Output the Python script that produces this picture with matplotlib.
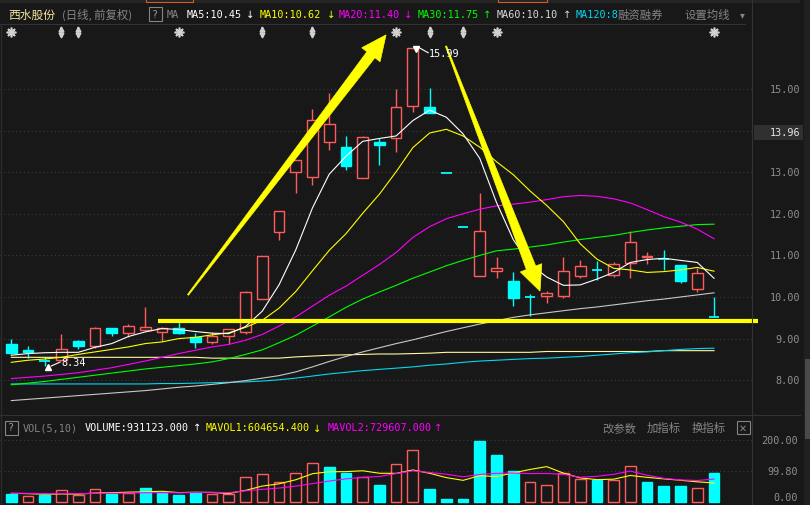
import matplotlib
matplotlib.use('Agg')
import matplotlib.pyplot as plt
from matplotlib.patches import Rectangle, Polygon
from matplotlib.transforms import blended_transform_factory
import numpy as np

# ---- values (price in yuan, volume in 10k lots) ----
opens = [8.86, 8.72, 8.45, 8.48, 8.94, 8.83, 9.25, 9.13, 9.21, 9.17, 9.25, 9.05, 8.93, 9.07, 9.17,
         9.95, 11.56, 13.01, 12.88, 13.72, 13.61, 12.85, 13.72, 13.81, 14.60, 14.57, 12.97, 11.67,
         10.50, 10.63, 10.39, 10.01, 10.03, 10.02, 10.51, 10.66, 10.53, 10.82, 10.95, 10.91, 10.78,
         10.20, 9.52]
highs = [8.98, 8.83, 8.55, 9.10, 8.96, 9.29, 9.25, 9.34, 9.75, 9.27, 9.39, 9.13, 9.17, 9.23, 10.15,
         10.99, 12.06, 13.29, 14.52, 14.90, 13.88, 13.88, 13.81, 15.00, 15.99, 15.02, 12.97, 11.67,
         12.50, 10.97, 10.61, 10.06, 10.14, 10.95, 10.88, 10.86, 10.85, 11.59, 11.07, 11.12, 10.78,
         10.70, 10.01]
lows = [8.62, 8.54, 8.34, 8.45, 8.75, 8.78, 9.07, 9.04, 9.18, 8.94, 9.10, 8.77, 8.87, 8.88, 9.12,
        9.95, 11.36, 12.50, 12.70, 13.54, 13.06, 12.85, 13.17, 13.48, 14.45, 14.41, 12.97, 11.67,
        10.50, 10.46, 9.79, 9.55, 9.85, 9.98, 10.46, 10.40, 10.48, 10.45, 10.79, 10.65, 10.33,
        10.12, 9.52]
closes = [8.65, 8.67, 8.45, 8.76, 8.82, 9.25, 9.13, 9.31, 9.27, 9.25, 9.13, 8.91, 9.07, 9.22, 10.11,
          10.99, 12.06, 13.29, 14.25, 14.16, 13.15, 13.84, 13.65, 14.56, 15.99, 14.41, 12.97, 11.67,
          11.59, 10.70, 9.98, 10.01, 10.10, 10.63, 10.75, 10.66, 10.80, 11.31, 10.99, 10.91, 10.38,
          10.58, 9.52]

ma5 = [8.60, 8.64, 8.66, 8.67, 8.67, 8.79, 8.88, 9.05, 9.16, 9.24, 9.22, 9.17, 9.13, 9.12, 9.29,
       9.66, 10.29, 11.13, 12.14, 12.95, 13.38, 13.74, 13.81, 13.87, 14.24, 14.49, 14.32, 13.92,
       13.33, 12.27, 11.38, 10.79, 10.48, 10.28, 10.29, 10.43, 10.59, 10.83, 10.90, 10.93, 10.88,
       10.83, 10.45]
ma10 = [8.43, 8.48, 8.51, 8.55, 8.62, 8.68, 8.74, 8.80, 8.88, 8.92, 9.00, 9.03, 9.09, 9.14, 9.27,
        9.44, 9.73, 10.13, 10.63, 11.12, 11.52, 12.01, 12.47, 13.01, 13.59, 13.94, 14.03, 13.87,
        13.60, 13.25, 12.94, 12.55, 12.20, 11.81, 11.28, 10.91, 10.69, 10.65, 10.59, 10.61, 10.65,
        10.71, 10.62]
ma20 = [8.04, 8.07, 8.10, 8.14, 8.18, 8.24, 8.30, 8.38, 8.46, 8.55, 8.64, 8.72, 8.80, 8.86, 8.96,
        9.10, 9.30, 9.52, 9.78, 10.04, 10.26, 10.52, 10.78, 11.07, 11.43, 11.69, 11.88, 12.00,
        12.11, 12.19, 12.23, 12.28, 12.34, 12.41, 12.44, 12.42, 12.36, 12.26, 12.10, 11.93, 11.80,
        11.63, 11.40]
ma30 = [7.89, 7.93, 7.97, 8.02, 8.07, 8.12, 8.17, 8.22, 8.27, 8.31, 8.35, 8.39, 8.44, 8.52, 8.62,
        8.73, 8.90, 9.08, 9.30, 9.52, 9.75, 9.95, 10.12, 10.28, 10.45, 10.60, 10.75, 10.88, 11.00,
        11.11, 11.15, 11.20, 11.25, 11.32, 11.38, 11.43, 11.48, 11.55, 11.61, 11.66, 11.70, 11.74,
        11.75]
ma60 = [7.51, 7.54, 7.57, 7.60, 7.63, 7.66, 7.69, 7.72, 7.75, 7.79, 7.83, 7.86, 7.90, 7.94, 7.99,
        8.05, 8.11, 8.20, 8.32, 8.45, 8.57, 8.68, 8.78, 8.88, 8.97, 9.07, 9.17, 9.26, 9.35, 9.43,
        9.51, 9.57, 9.62, 9.67, 9.72, 9.76, 9.81, 9.86, 9.91, 9.95, 10.00, 10.05, 10.10]
ma120 = [7.91, 7.91, 7.91, 7.91, 7.91, 7.91, 7.91, 7.91, 7.91, 7.92, 7.92, 7.93, 7.94, 7.95, 7.96,
         7.98, 8.01, 8.05, 8.10, 8.15, 8.19, 8.23, 8.26, 8.29, 8.32, 8.36, 8.39, 8.43, 8.46, 8.48,
         8.50, 8.52, 8.53, 8.55, 8.57, 8.60, 8.63, 8.66, 8.68, 8.71, 8.74, 8.76, 8.77]
ma250 = [8.55, 8.55, 8.55, 8.55, 8.55, 8.55, 8.55, 8.55, 8.55, 8.55, 8.55, 8.55, 8.53, 8.53, 8.53,
         8.53, 8.53, 8.56, 8.58, 8.60, 8.61, 8.62, 8.63, 8.63, 8.64, 8.65, 8.67, 8.67, 8.67, 8.67,
         8.67, 8.67, 8.69, 8.69, 8.69, 8.69, 8.69, 8.69, 8.69, 8.71, 8.71, 8.71, 8.71]

volumes = [24.2, 18.9, 21.0, 36.8, 21.0, 42.0, 24.2, 29.4, 43.1, 29.4, 21.0, 29.4, 26.3, 26.3, 79.8,
           90.3, 65.1, 92.4, 123.9, 111.3, 92.4, 78.8, 52.5, 121.8, 165.9, 39.9, 8.4, 8.4, 197.4,
           150.2, 99.8, 64.1, 54.6, 92.4, 73.5, 71.4, 71.4, 114.5, 62.0, 49.4, 49.4, 45.2, 93.1]
vol_up = [0, 1, 0, 1, 1, 1, 0, 1, 0, 0, 0, 0, 1, 1, 1, 1, 1, 1, 1, 0, 0, 1, 0, 1, 1, 0, 0, 0, 0, 0,
          0, 1, 1, 1, 1, 0, 1, 1, 0, 0, 0, 1, 0]
mavol1 = [27, 26, 24, 25, 24.4, 27.9, 29.0, 30.7, 31.9, 33.6, 29.4, 30.5, 29.8, 26.5, 36.6, 50.4,
          57.6, 70.8, 90.3, 96.6, 97.0, 99.8, 91.8, 91.4, 102.3, 91.8, 77.7, 68.9, 84.0, 80.9, 92.8,
          104.0, 113.2, 92.2, 76.9, 71.2, 72.7, 84.6, 78.6, 73.7, 69.3, 64.1, 60.5]
mavol2 = [27, 27, 26, 26, 26, 27, 27, 28, 29, 29.0, 28.7, 29.7, 30.3, 29.2, 35.1, 39.9, 44.0, 50.3,
          58.4, 66.6, 73.7, 78.7, 81.3, 90.8, 99.4, 94.4, 88.7, 80.3, 87.7, 91.6, 92.3, 90.8, 91.1,
          88.1, 78.9, 82.0, 88.3, 98.9, 85.4, 75.3, 70.3, 68.4, 73.0]

price_ticks = [8, 9, 10, 11, 12, 13, 14, 15]
vol_ticks = [200.0, 99.8, 0.0]
star_marks = [0, 10, 23, 29, 42]
updown_marks = [3, 4, 15, 18, 25, 27]
support_price = 9.43
support_span = (8.77, 44.6)
arrows = [((10.56, 10.05), (22.4, 16.30)), ((25.98, 16.03), (31.6, 10.14))]
crosshair_price = 13.96

BG = '#181818'
RED = '#ff5b5b'
CYAN = '#00ffff'
YEL = '#ffff00'
GRID = '#3a3a3a'
TXT = '#8e8e8e'
W, H = 810, 506
CJK = ['Noto Sans CJK SC', 'DejaVu Sans']
MONO = ['DejaVu Sans Mono', 'Noto Sans CJK SC']

fig = plt.figure(figsize=(8.1, 5.06), dpi=100)
fig.patch.set_facecolor(BG)

ax = fig.add_axes([0, 1 - 412 / H, 752 / W, 372 / H])
axv = fig.add_axes([0, 0, 752 / W, 89 / H])
over = fig.add_axes([0, 0, 1, 1], zorder=10)
over.set_xlim(0, W)
over.set_ylim(H, 0)
over.set_axis_off()

n = len(closes)
x = np.arange(n)
for a in (ax, axv):
    a.set_facecolor(BG)
    a.set_xlim(-0.675, 44.27)
    a.set_xticks([])
    a.set_yticks([])
    for s in a.spines.values():
        s.set_visible(False)
ax.set_ylim(7.26, 16.20)
axv.set_ylim(-10.65, 276.5)

for p in price_ticks:
    ax.axhline(p, color=GRID, lw=0.8, ls=(0, (1, 2.5)), zorder=1)
for v in vol_ticks[:2]:
    axv.axhline(v, color=GRID, lw=0.8, ls=(0, (1, 2.5)), zorder=1)

# candles
bw = 0.64
for i in range(n):
    o, h, l, c = opens[i], highs[i], lows[i], closes[i]
    up = c > o
    col = RED if up else CYAN
    lo, hi = min(o, c), max(o, c)
    if hi - lo < 0.015:
        ax.vlines(i, l, h, color=col, lw=1.0, zorder=3)
        ax.hlines(lo, i - bw / 2, i + bw / 2, color=col, lw=1.3, zorder=3)
        continue
    ax.vlines(i, l, lo, color=col, lw=1.0, zorder=3)
    ax.vlines(i, hi, h, color=col, lw=1.0, zorder=3)
    ax.add_patch(Rectangle((i - bw / 2, lo), bw, hi - lo, facecolor=BG if up else col,
                           edgecolor=col, lw=1.0, zorder=3))

for vals, col in [(ma250, '#fffaa0'), (ma120, '#00d8f0'), (ma60, '#c8c8c8'), (ma30, '#00ff00'),
                  (ma20, '#ff00ff'), (ma10, '#ffff00'), (ma5, '#ffffff')]:
    ax.plot(x, vals, color=col, lw=0.8, zorder=4)

# volume bars
for i in range(n):
    col = RED if vol_up[i] else CYAN
    axv.add_patch(Rectangle((i - bw / 2, 0), bw, volumes[i], facecolor=BG if vol_up[i] else col,
                            edgecolor=col, lw=1.0, zorder=3))
axv.plot(x, mavol1, color='#ffff00', lw=0.8, zorder=4)
axv.plot(x, mavol2, color='#ff00ff', lw=0.8, zorder=4)

# support line and arrows
ax.hlines(support_price, support_span[0], support_span[1], color=YEL, lw=3, zorder=6, clip_on=False)


def to_px(pt):
    d = ax.transData.transform(pt)
    return np.array([d[0], H - d[1]])


for tail, tip in arrows:
    t, e = to_px(tail), to_px(tip)
    u = (e - t) / np.hypot(*(e - t))
    nr = np.array([-u[1], u[0]])
    b = e - u * 25
    pts = [t + nr * 0.6, b + nr * 5, b + nr * 11.5, e, b - nr * 11.5, b - nr * 5, t - nr * 0.6]
    over.add_patch(Polygon(pts, closed=True, fc=YEL, ec=YEL, lw=0.5))

# high / low labels
i_hi = int(np.argmax(highs))
i_lo = int(np.argmin(lows))
for idx, val, dy in [(i_hi, highs[i_hi], 5), (i_lo, lows[i_lo], -4)]:
    px = to_px((idx + 0.2, val))
    over.plot(px[0], px[1] + 1, marker='v' if dy > 0 else '^', ms=4, color='white', mec='white')
    over.plot([px[0] + 3, px[0] + 12], [px[1], px[1] + dy], color='white', lw=0.8)
    over.text(px[0] + 13, px[1] + dy, f'{val:.2f}', color='white', fontsize=7.3, family=MONO,
              va='center', ha='left')

# event markers row
for i in star_marks:
    over.plot(to_px((i, 10))[0], 33, marker=(8, 2, 0), ms=7, mew=1.2, color='#d0d0d0')
    over.plot(to_px((i, 10))[0], 33, marker='o', ms=3, color='#d0d0d0')
for i in updown_marks:
    xx = to_px((i, 10))[0]
    over.plot([xx, xx], [29, 37], color='#d0d0d0', lw=1.2)
    over.plot(xx, 30, marker='^', ms=3.5, color='#d0d0d0')
    over.plot(xx, 36, marker='v', ms=3.5, color='#d0d0d0')

# right axis labels (the crosshair price box hides the tick label under it)
trp = blended_transform_factory(fig.transFigure, ax.transData)
for p in price_ticks:
    if abs(p - crosshair_price) < 0.25:
        continue
    ax.text(800 / W, p, f'{p:.2f}', transform=trp, ha='right', va='center', color=TXT,
            fontsize=7.3, family=MONO, clip_on=False)
ch = to_px((0, crosshair_price))[1]
over.add_patch(Rectangle((754, ch - 7.5), 49, 15, fc='#303030', ec='none'))
over.text(800, ch, f'{crosshair_price:.2f}', ha='right', va='center', color='#e8e8e8',
          fontsize=7.3, family=MONO)
trv = blended_transform_factory(fig.transFigure, axv.transData)
for v in vol_ticks:
    axv.text(798 / W, v, f'{v:.2f}', transform=trv, ha='right', va='bottom' if v == 0 else 'center',
             color=TXT, fontsize=7.3, family=MONO, clip_on=False)

# frame lines
over.plot([0, 745], [25, 25], color='#333333', lw=0.8)
over.plot([0, 800], [416, 416], color='#333333', lw=0.8)
over.plot([752, 752], [0, H], color='#333333', lw=0.8)
over.plot([1, 1], [25, H], color='#2c2c2c', lw=1)
over.add_patch(Rectangle((0, 0), 800, 4, fc='#242424', ec='none'))
for x0, x1 in [(146, 193), (498, 547)]:
    over.add_patch(Rectangle((x0, -1), x1 - x0, 4, fc='none', ec='#d06020', lw=0.8))
over.add_patch(Rectangle((804, 0), 6, H, fc='#202020', ec='none'))
over.add_patch(Rectangle((805, 360), 5, 80, fc='#4a4a4a', ec='none'))

# header
over.text(8, 15, '西水股份', color='#f2e6a0', fontsize=8.5, family=CJK, va='center')
over.text(62, 15, '(日线, 前复权)', color='#858585', fontsize=8.2, family=CJK, va='center')
over.add_patch(Rectangle((148.5, 8), 13, 14, fc='none', ec='#858585', lw=0.8))
over.text(155, 15, '?', color='#9a9a9a', fontsize=7.3, family=MONO, va='center', ha='center')
over.text(167, 15, 'MA', color='#858585', fontsize=7.3, family=MONO, va='center')
items = [(187, 'MA5:10.45', '#ffffff'), (246, '↓', '#ffffff'),
         (260, 'MA10:10.62', '#ffff00'), (327, '↓', '#ffff00'),
         (339, 'MA20:11.40', '#ff00ff'), (404, '↓', '#ff00ff'),
         (418, 'MA30:11.75', '#00ff00'), (483, '↑', '#00ff00'),
         (497, 'MA60:10.10', '#d8d8d8'), (563, '↑', '#d8d8d8'),
         (576, 'MA120:8', '#00d8f0')]
for xx, s, c in items:
    over.text(xx, 15, s, color=c, fontsize=7.3, family=MONO if s[0] == 'M' else ['DejaVu Sans'],
              va='center')
over.text(617, 15, '融资融券', color='#858585', fontsize=8.2, family=CJK, va='center')
over.text(684, 15, '设置均线', color='#858585', fontsize=8.2, family=CJK, va='center')
over.text(740, 15, '▾', color='#858585', fontsize=7, family=['DejaVu Sans'], va='center')

# volume header
over.add_patch(Rectangle((5, 421.5), 12.5, 14, fc='none', ec='#858585', lw=0.8))
over.text(11.2, 428.5, '?', color='#9a9a9a', fontsize=7.3, family=MONO, va='center', ha='center')
vitems = [(23, 'VOL(5,10)', '#858585'), (85, 'VOLUME:931123.000', '#ffffff'), (193, '↑', '#ffffff'),
          (206, 'MAVOL1:604654.400', '#ffff00'), (313, '↓', '#ffff00'),
          (328, 'MAVOL2:729607.000', '#ff00ff'), (434, '↑', '#ff00ff')]
for xx, s, c in vitems:
    over.text(xx, 428.5, s, color=c, fontsize=7.3, family=MONO if s[0] in 'VM' else ['DejaVu Sans'],
              va='center')
for xx, s in [(602, '改参数'), (647, '加指标'), (692, '换指标')]:
    over.text(xx, 428.5, s, color='#858585', fontsize=8.2, family=CJK, va='center')
over.add_patch(Rectangle((736.5, 421.5), 13.5, 13.5, fc='none', ec='#858585', lw=0.8))
over.text(743.2, 428.3, '✕', color='#858585', fontsize=7, family=['DejaVu Sans'], va='center',
          ha='center')

fig.savefig('out.png', dpi=100, facecolor=BG)
